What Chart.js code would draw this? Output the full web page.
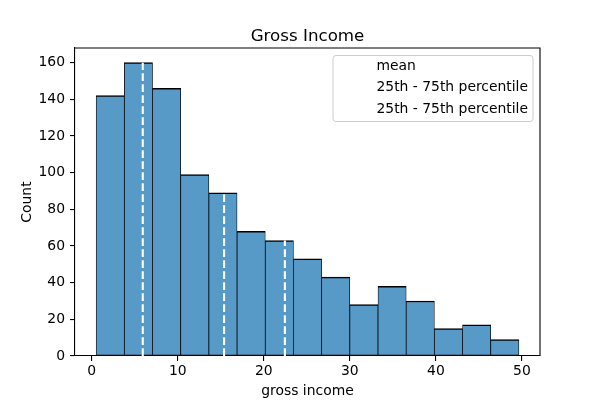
<!DOCTYPE html>
<html>
<head>
<meta charset="utf-8">
<script src="https://cdn.jsdelivr.net/npm/chart.js@4.4.1/dist/chart.umd.min.js"></script>
<style>
  html, body { margin: 0; padding: 0; background: #fff; }
  #wrap { width: 600px; height: 400px; }
</style>
</head>
<body>
<div id="wrap"><canvas id="myChart" width="600" height="400"></canvas></div>
<script>
// bin edges of the histogram (gross income)
const binEdges = [0.5085, 3.7846, 7.0607, 10.3368, 13.6129, 16.889, 20.1651, 23.4412,
  26.7173, 29.9934, 33.2695, 36.5456, 39.8217, 43.0978, 46.3739, 49.65];
// count per bin
const binCounts = [142, 160, 146, 99, 89, 68, 63, 53, 43, 28, 38, 30, 15, 17, 9];

// reference lines: position and the height of the bar they sit in
const markerLabels = ['mean', '25th - 75th percentile', '25th - 75th percentile'];
const markerValues = [15.379, 5.925, 22.445];
const markerTops = [89, 160, 63];

const xTickValues = [0, 10, 20, 30, 40, 50];
const yTickValues = [0, 20, 40, 60, 80, 100, 120, 140, 160];

Chart.defaults.font.family = 'DejaVu Sans';
Chart.defaults.font.size = 13.9;
Chart.defaults.color = '#000';

const barData = binCounts.map((c, i) => ({ x: (binEdges[i] + binEdges[i + 1]) / 2, y: c }));

const lineSets = markerValues.map((v, i) => ({
  type: 'line',
  label: markerLabels[i],
  data: [{ x: v, y: 0 }, { x: v, y: markerTops[i] }],
  borderColor: '#ffffff',
  backgroundColor: '#ffffff',
  borderWidth: 2.1,
  borderDash: [7.7, 3.3],
  pointRadius: 0,
  fill: false,
  order: 0,
}));

// matplotlib style legend frame + move legend into the top right corner
const legendFrame = {
  id: 'legendFrame',
  beforeDraw(chart) {
    const lg = chart.legend;
    lg.left = 334.2;
    lg.top = 52.4;
    lg.right = 533;
    lg.bottom = 400;
    const ctx = chart.ctx;
    ctx.save();
    ctx.beginPath();
    ctx.roundRect(333, 55.5, 200, 66, 3);
    ctx.fillStyle = 'rgba(255,255,255,0.8)';
    ctx.fill();
    ctx.strokeStyle = '#cccccc';
    ctx.lineWidth = 1;
    ctx.stroke();
    ctx.restore();
  },
  afterDraw(chart) {
    // top and right spines
    const { left, right, top, bottom } = chart.chartArea;
    const ctx = chart.ctx;
    ctx.save();
    ctx.strokeStyle = '#000';
    ctx.lineWidth = 1.1;
    ctx.beginPath();
    ctx.moveTo(left, top);
    ctx.lineTo(right, top);
    ctx.lineTo(right, bottom);
    ctx.stroke();
    ctx.restore();
  },
};

const ctx = document.getElementById('myChart').getContext('2d');
new Chart(ctx, {
  type: 'bar',
  data: {
    datasets: [
      {
        label: 'count',
        data: barData,
        backgroundColor: 'rgb(87,153,199)',
        borderColor: '#000',
        borderWidth: { top: 1.5, bottom: 1, left: 0.75, right: 0.75 },
        borderSkipped: false,
        barPercentage: 1.0,
        categoryPercentage: 1.0,
        order: 1,
      },
      ...lineSets,
    ],
  },
  options: {
    responsive: false,
    animation: false,
    layout: { padding: { left: 0, right: 60, top: 0, bottom: 0 } },
    plugins: {
      title: {
        display: true,
        text: 'Gross Income',
        fullSize: false,
        font: { size: 16.7, weight: 'normal' },
        padding: { top: 26.2, bottom: 1.8 },
        color: '#000',
      },
      legend: {
        position: 'chartArea',
        align: 'start',
        labels: {
          filter: (item) => item.datasetIndex > 0,
          boxWidth: 28,
          boxHeight: 13.9,
          padding: 7.3,
          font: { size: 13.9 },
          color: '#000',
        },
      },
      tooltip: { enabled: false },
    },
    scales: {
      x: {
        type: 'linear',
        min: -1.95,
        max: 52.1,
        offset: false,
        afterBuildTicks: (scale) => { scale.ticks = xTickValues.map((v) => ({ value: v })); },
        afterFit: (scale) => { scale.height = 44; },
        ticks: { padding: 2.5, color: '#000', font: { size: 13.9 } },
        grid: { offset: false, drawOnChartArea: false, drawTicks: true, tickLength: 5, color: '#000', lineWidth: 1.1 },
        border: { display: true, color: '#000', width: 1.1 },
        title: { display: true, text: 'gross income', padding: { top: 0, bottom: 0 }, font: { size: 13.9 }, color: '#000' },
      },
      y: {
        type: 'linear',
        min: 0,
        max: 168,
        afterBuildTicks: (scale) => { scale.ticks = yTickValues.map((v) => ({ value: v })); },
        afterFit: (scale) => { scale.width = 75; },
        ticks: { padding: 5, color: '#000', font: { size: 13.9 } },
        grid: { drawOnChartArea: false, drawTicks: true, tickLength: 5, color: '#000', lineWidth: 1.1 },
        border: { display: true, color: '#000', width: 1.1 },
        title: { display: true, text: 'Count', padding: { top: 19, bottom: 0 }, font: { size: 13.9 }, color: '#000' },
      },
    },
  },
  plugins: [legendFrame],
});
</script>
</body>
</html>
